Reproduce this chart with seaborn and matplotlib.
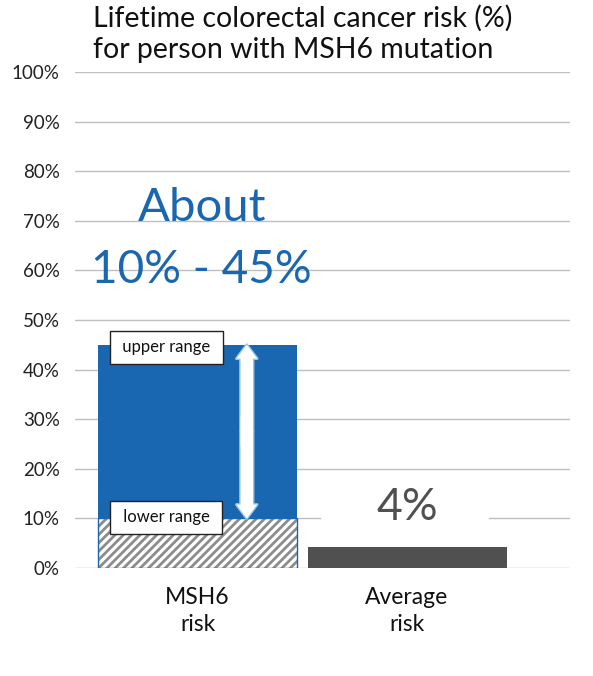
import matplotlib
matplotlib.use("Agg")
import matplotlib.pyplot as plt
from matplotlib.patches import Rectangle
import seaborn as sns
import pandas as pd

categories = ["MSH6\nrisk", "Average\nrisk"]
upper_values = [45, 4.3]
lower_values = [10]
lower_categories = ["MSH6\nrisk"]
yticks = [0, 10, 20, 30, 40, 50, 60, 70, 80, 90, 100]
ytick_labels = [f"{v}%" for v in yticks]
title = "Lifetime colorectal cancer risk (%)\nfor person with MSH6 mutation"
big_label_1 = "About"
big_label_2 = "10% - 45%"
avg_label = "4%"

BLUE = "#1a67b1"
GRAY = "#505050"
FONT = ["Lato", "DejaVu Sans"]

sns.set_theme(style="white")
plt.rcParams["font.family"] = FONT
plt.rcParams["hatch.linewidth"] = 2.0

fig = plt.figure(figsize=(5.93, 6.76), dpi=100)
ax = fig.add_axes([0.1265, 0.1598, 0.8347, 0.7337])

df = pd.DataFrame({"category": categories, "value": upper_values})
sns.barplot(data=df, x="category", y="value", hue="category", order=categories,
            palette=[BLUE, GRAY], saturation=1, width=0.95, legend=False, ax=ax,
            linewidth=0, zorder=2)

df_low = pd.DataFrame({"category": lower_categories, "value": lower_values})
n_before = len(ax.patches)
sns.barplot(data=df_low, x="category", y="value", order=categories,
            color="white", saturation=1, width=0.95, ax=ax, zorder=3)
for p in list(ax.patches[n_before:]):
    p.set_facecolor("white")
    p.set_hatch("////")
    p.set_edgecolor("#8c8c8c")
    p.set_linewidth(0)
    ax.add_patch(Rectangle(p.get_xy(), p.get_width(), p.get_height(),
                           fill=False, ec=BLUE, lw=1.0, zorder=4))

ax.set_xlim(-0.585, 1.778)
ax.set_ylim(0, 100)
ax.set_yticks(yticks)
ax.set_yticklabels(ytick_labels, fontsize=13.5, color="#222222")
ax.yaxis.grid(True, color="#bfbfbf", linewidth=1.0)
ax.set_axisbelow(True)
ax.tick_params(axis="y", length=0, pad=11)
ax.tick_params(axis="x", length=0, pad=14)
ax.set_xticks([0, 1])
ax.set_xticklabels(categories, fontsize=16.5, color="#111111", linespacing=1.35)
ax.set_xlabel("")
ax.set_ylabel("")
for s in ax.spines.values():
    s.set_visible(False)

# big annotation
ax.text(0.02, 72.6, big_label_1, ha="center", va="center",
        fontsize=34, color=BLUE, zorder=5)
ax.text(0.02, 60.1, big_label_2, ha="center", va="center",
        fontsize=33, color=BLUE, zorder=5)

# average label with white area hiding gridline
ax.text(1.0, 12.1, avg_label, ha="center", va="center", fontsize=32, color=GRAY,
        zorder=5)
ax.plot([0.6, 1.38], [10, 10], color="white", lw=3, zorder=1.5)

# range boxes
box = dict(boxstyle="square,pad=0.5", fc="white", ec="#222222", lw=1)
ax.text(-0.15, 44.5, " upper range ", ha="center", va="center", fontsize=12,
        color="#111111", zorder=6, bbox=box)
ax.text(-0.15, 10.2, " lower range ", ha="center", va="center", fontsize=12,
        color="#111111", zorder=6, bbox=box)

# double arrow: two single-headed arrows from the middle outwards
arrow_x = 0.235
mid = (upper_values[0] + lower_values[0]) / 2
style = "simple,head_length=0.5,head_width=0.75,tail_width=0.45"
for end in (upper_values[0], lower_values[0]):
    ax.annotate("", xy=(arrow_x, end), xytext=(arrow_x, mid), zorder=6,
                arrowprops=dict(arrowstyle=style, mutation_scale=20,
                                fc="white", ec="#9cc3e6", lw=2,
                                shrinkA=0, shrinkB=0))
for end, start in ((upper_values[0], mid - 3), (lower_values[0], mid + 3)):
    ax.annotate("", xy=(arrow_x, end), xytext=(arrow_x, start), zorder=7,
                arrowprops=dict(arrowstyle=style, mutation_scale=20,
                                fc="white", ec="none", lw=0,
                                shrinkA=0, shrinkB=0))

fig.text(93 / 593, 1 - 5 / 676, title, ha="left", va="top", fontsize=20.5,
         color="#111111", linespacing=1.25)

fig.savefig("out.png", dpi=100)
